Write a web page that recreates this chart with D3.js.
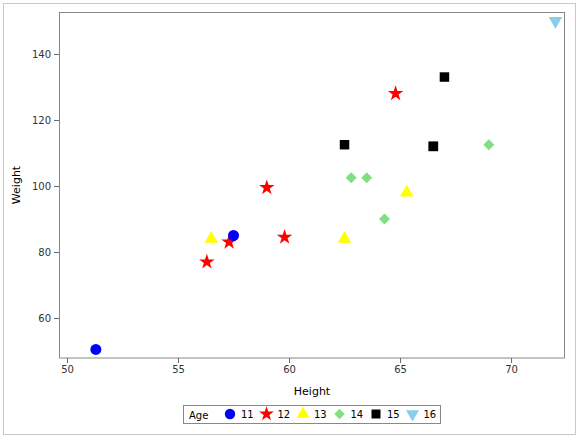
<!DOCTYPE html>
<html><head><meta charset="utf-8">
<script src="https://cdn.jsdelivr.net/npm/d3@7"></script>
<style>body{margin:0;background:#fff}text{font-family:"DejaVu Sans",sans-serif}</style>
</head><body>
<svg width="580" height="439"></svg>
<script>
// SASHELP.CLASS
const ages = [14,13,13,14,14,12,12,15,13,12,11,14,12,15,16,12,15,11,15];
const heights = [69.0,56.5,65.3,62.8,63.5,57.3,59.8,62.5,62.5,59.0,51.3,64.3,56.3,66.5,72.0,64.8,67.0,57.5,66.5];
const weights = [112.5,84.0,98.0,102.5,102.5,83.0,84.5,112.5,84.0,99.5,50.5,90.0,77.0,112.0,150.0,128.0,133.0,85.0,112.0];
const groups = [11,12,13,14,15,16];
const colors = ["#0000ff","#ff0000","#ffff00","#80e080","#000000","#87ceeb"];
const shapes = [d3.symbolCircle,d3.symbolStar,d3.symbolTriangle,d3.symbolSquare,d3.symbolSquare,d3.symbolTriangle];
const sizes = [95,75,80,60,90,80];
const rot = [0,0,0,45,0,180];
const xTicks = [50,55,60,65,70], yTicks = [60,80,100,120,140];

const svg = d3.select("svg");
svg.append("rect").attr("x",3.5).attr("y",3.5).attr("width",572).attr("height",431)
  .attr("fill","none").attr("stroke","#c8c8c8");

const x = d3.scaleLinear().domain([49.64,72.43]).range([59,565]);
const y = d3.scaleLinear().domain([47.9,152.7]).range([358,12]);

svg.append("rect").attr("x",59.5).attr("y",12.5).attr("width",505).attr("height",345.5)
  .attr("fill","none").attr("stroke","#888");

const xa = svg.append("g").attr("transform","translate(0,358)")
  .call(d3.axisBottom(x).tickValues(xTicks).tickSize(5));
const ya = svg.append("g").attr("transform","translate(59,0)")
  .call(d3.axisLeft(y).tickValues(yTicks).tickSize(5));
[xa,ya].forEach(a=>{a.select(".domain").remove();a.selectAll("line").attr("stroke","#666");
  a.selectAll("text").attr("font-size",10).attr("fill","#333").style("font-family","DejaVu Sans");});

svg.append("text").attr("x",312).attr("y",395).attr("text-anchor","middle").attr("font-size",11).text("Height");
svg.append("text").attr("transform","translate(20,185) rotate(-90)").attr("text-anchor","middle").attr("font-size",11).text("Weight");

const sym = (i,scale=1)=>d3.symbol().type(shapes[i]).size(sizes[i]*scale)();
svg.append("g").selectAll("path").data(ages).join("path")
  .attr("d",a=>sym(groups.indexOf(a)))
  .attr("transform",(a,i)=>`translate(${x(heights[i])},${y(weights[i])}) rotate(${rot[groups.indexOf(a)]})`)
  .attr("fill",a=>colors[groups.indexOf(a)]);

// legend
const lg = svg.append("g");
lg.append("rect").attr("x",183.5).attr("y",405.5).attr("width",257).attr("height",18)
  .attr("fill","none").attr("stroke","#888");
lg.append("text").attr("x",189).attr("y",419).attr("font-size",10).text("Age");
groups.forEach((g,i)=>{
  const cx = 230 + i*36.5;
  lg.append("path").attr("d",sym(i,0.9))
    .attr("transform",`translate(${cx},414) rotate(${rot[i]})`).attr("fill",colors[i]);
  lg.append("text").attr("x",cx+11).attr("y",418).attr("font-size",10).text(g);
});
</script>
</body></html>
